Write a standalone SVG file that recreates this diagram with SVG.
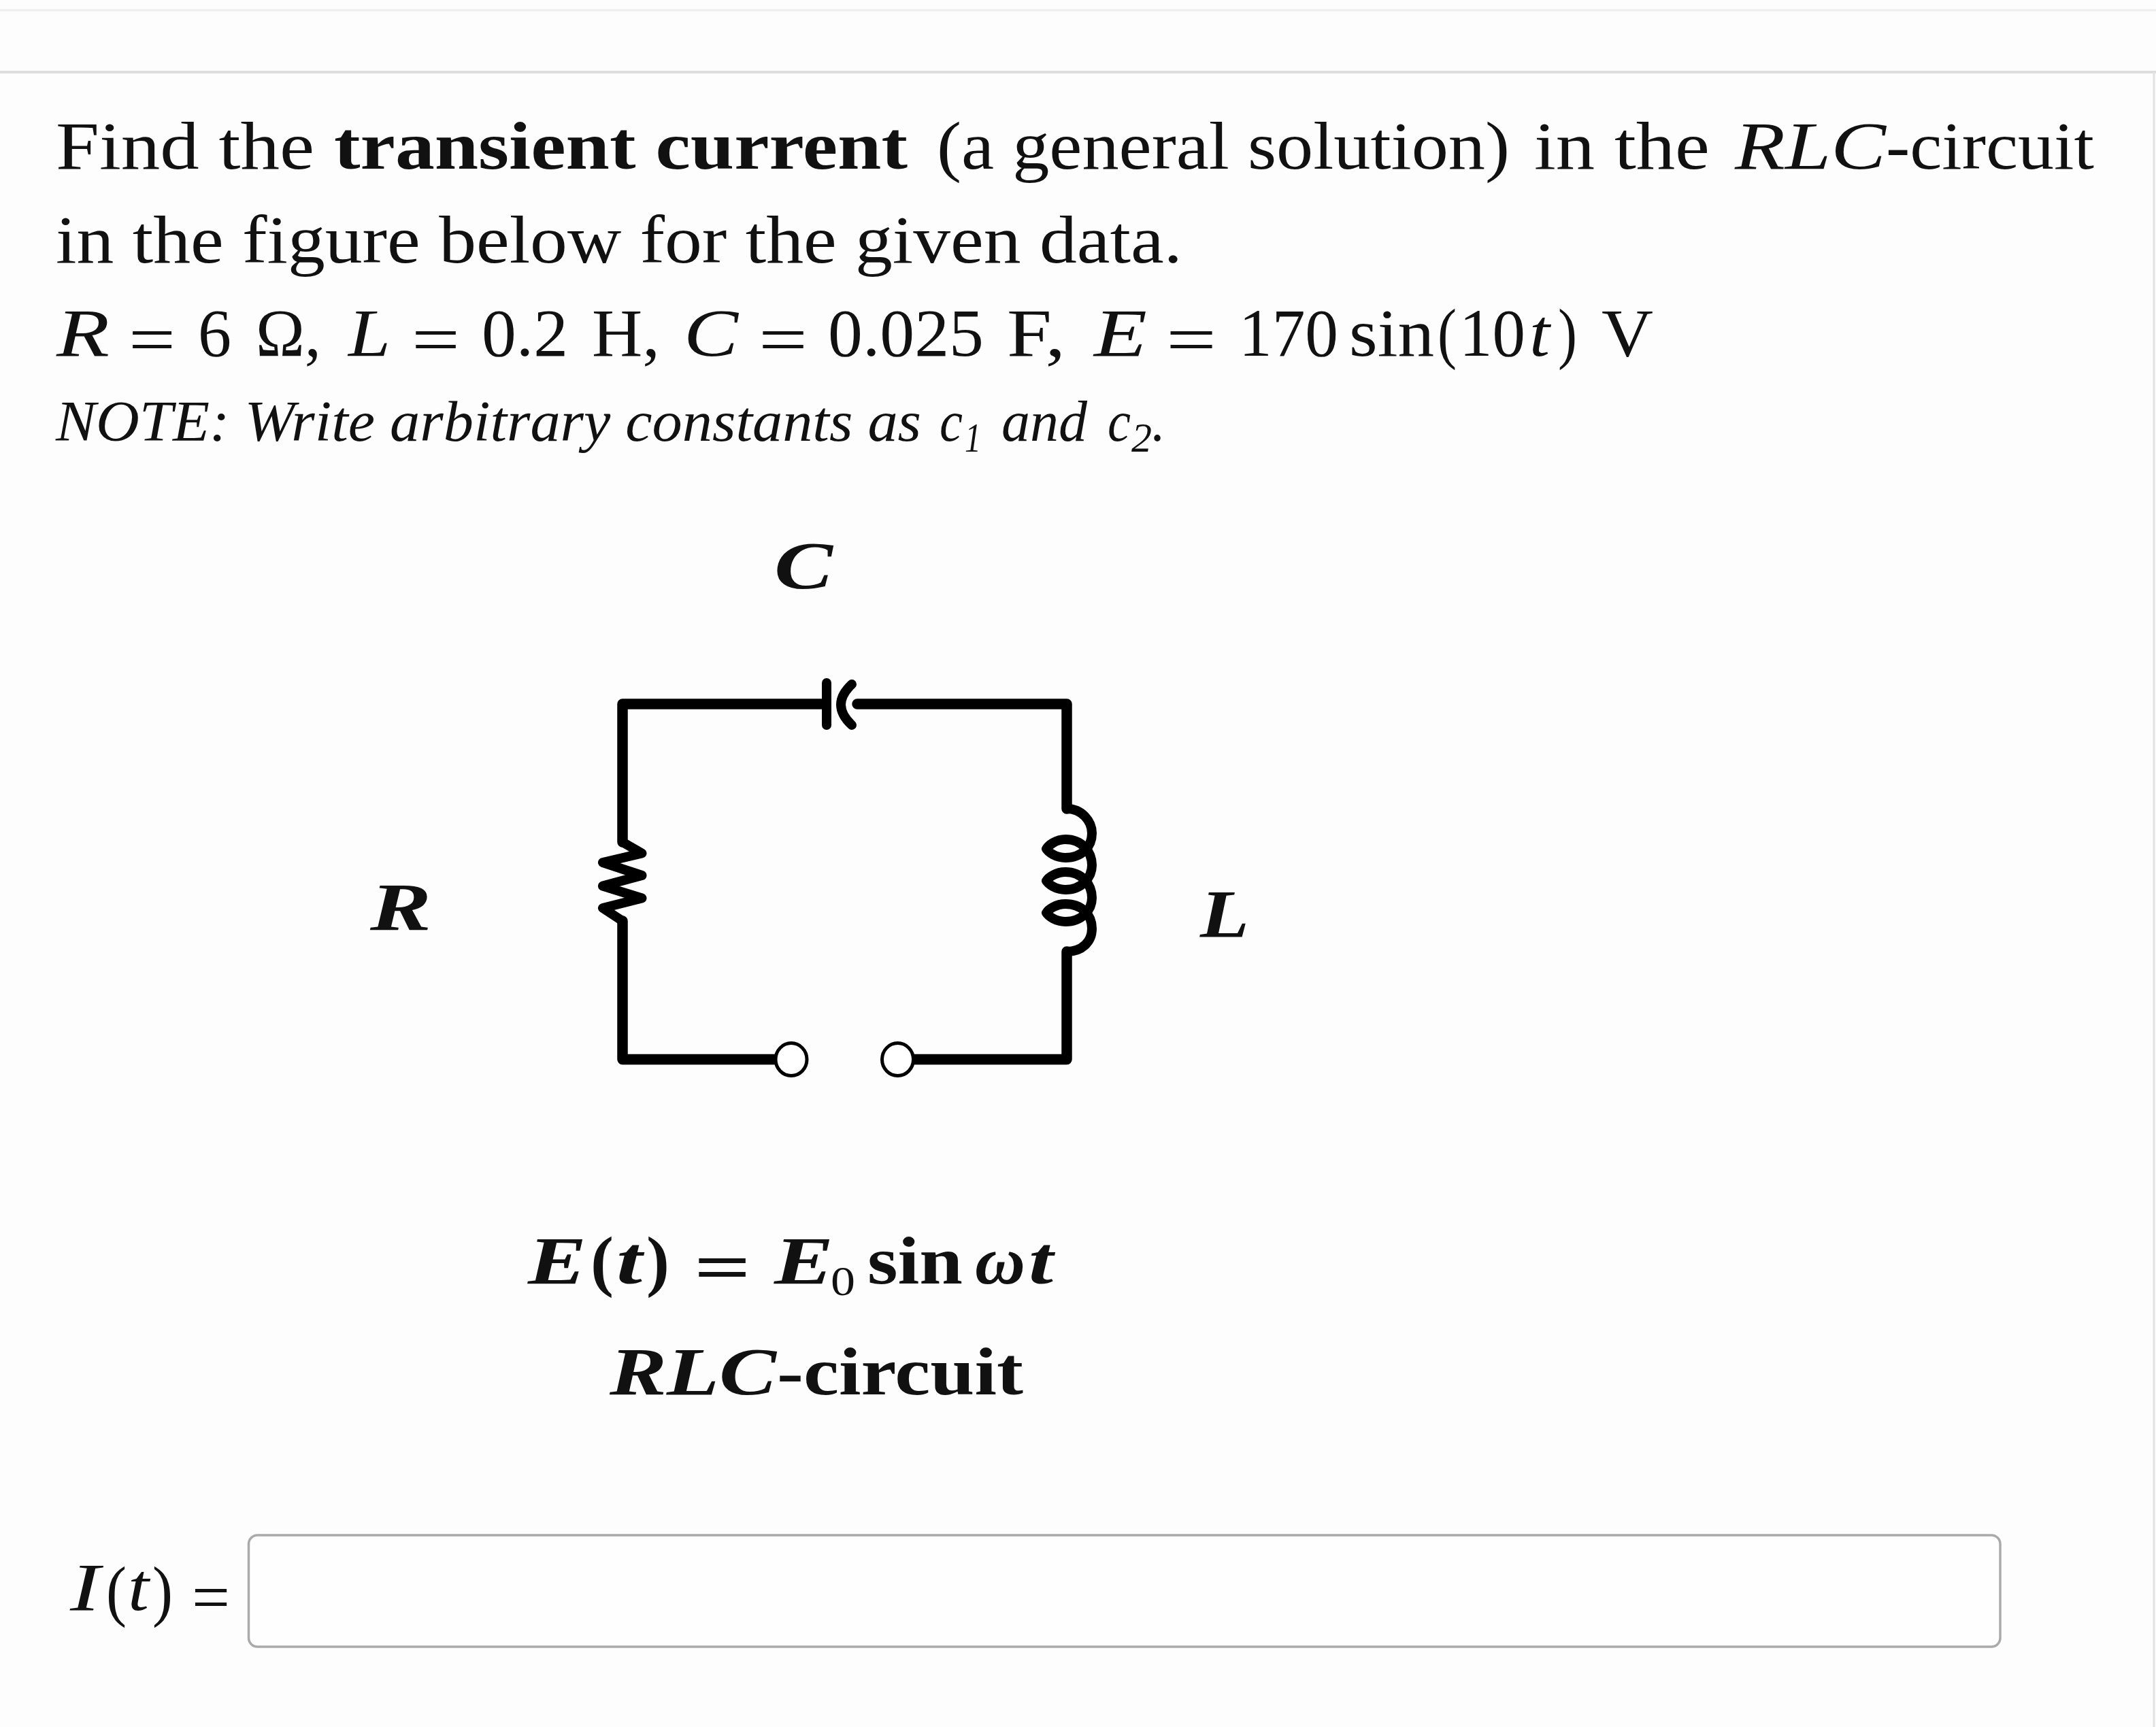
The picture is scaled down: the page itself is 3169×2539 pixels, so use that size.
<svg xmlns="http://www.w3.org/2000/svg" width="3169" height="2539" viewBox="0 0 3169 2539">
<style>
text{font-family:"Liberation Serif","Times New Roman",serif;fill:#111;white-space:pre}
.t{font-size:100px}
.n{font-size:84px;font-style:italic}
.s{font-size:62px}
.i{font-style:italic}
.b{font-weight:700}
.bi{font-weight:700;font-style:italic}
.w{fill:none;stroke:#000;stroke-width:15.5;stroke-linecap:round;stroke-linejoin:round}
.c{fill:none;stroke:#000;stroke-width:14;stroke-linecap:round;stroke-linejoin:round}
.o{fill:#fff;stroke:#000;stroke-width:5}
</style>
<rect width="3169" height="2539" fill="#fdfdfd"/>
<g id="page-frame">
<line x1="0" y1="15" x2="3169" y2="15" stroke="#eeeeee" stroke-width="3"/>
<line x1="0" y1="106" x2="3169" y2="106" stroke="#dddddd" stroke-width="4"/>
<line x1="3166" y1="106" x2="3166" y2="2539" stroke="#e2e2e2" stroke-width="3"/>
</g>
<g id="question">
<text class="t" x="82" y="248" textLength="380" lengthAdjust="spacingAndGlyphs">Find the</text>
<text class="t b" x="491" y="248" textLength="843" lengthAdjust="spacingAndGlyphs">transient current</text>
<text class="t" x="1377" y="248" textLength="842" lengthAdjust="spacingAndGlyphs">(a general solution)</text>
<text class="t" x="2255" y="248" textLength="258" lengthAdjust="spacingAndGlyphs">in the</text>
<text class="t i" x="2550" y="248" textLength="222" lengthAdjust="spacingAndGlyphs">RLC</text>
<text class="t" x="2772" y="248" textLength="306" lengthAdjust="spacingAndGlyphs">-circuit</text>
<text class="t" x="82" y="386" textLength="1656" lengthAdjust="spacingAndGlyphs">in the figure below for the given data.</text>
</g>
<g id="data">
<text class="t i" x="83" y="523" textLength="78" lengthAdjust="spacingAndGlyphs">R</text>
<text class="t" x="189" y="533" textLength="69" lengthAdjust="spacingAndGlyphs">=</text>
<text class="t" x="291" y="523" textLength="49" lengthAdjust="spacingAndGlyphs">6</text>
<text class="t" x="376" y="523" textLength="96" lengthAdjust="spacingAndGlyphs">Ω,</text>
<text class="t i" x="512" y="523" textLength="62" lengthAdjust="spacingAndGlyphs">L</text>
<text class="t" x="605" y="533" textLength="71" lengthAdjust="spacingAndGlyphs">=</text>
<text class="t" x="708" y="523" textLength="127" lengthAdjust="spacingAndGlyphs">0.2</text>
<text class="t" x="870" y="523" textLength="100" lengthAdjust="spacingAndGlyphs">H,</text>
<text class="t i" x="1005" y="523" textLength="80" lengthAdjust="spacingAndGlyphs">C</text>
<text class="t" x="1115" y="533" textLength="72" lengthAdjust="spacingAndGlyphs">=</text>
<text class="t" x="1217" y="523" textLength="229" lengthAdjust="spacingAndGlyphs">0.025</text>
<text class="t" x="1480" y="523" textLength="86" lengthAdjust="spacingAndGlyphs">F,</text>
<text class="t i" x="1608" y="523" textLength="78" lengthAdjust="spacingAndGlyphs">E</text>
<text class="t" x="1714" y="533" textLength="74" lengthAdjust="spacingAndGlyphs">=</text>
<text class="t" x="1821" y="523" textLength="146" lengthAdjust="spacingAndGlyphs">170</text>
<text class="t" x="1983" y="523" textLength="125" lengthAdjust="spacingAndGlyphs">sin</text>
<text class="t" x="2113" y="523" textLength="28" lengthAdjust="spacingAndGlyphs">(</text>
<text class="t" x="2145" y="523" textLength="97" lengthAdjust="spacingAndGlyphs">10</text>
<text class="t i" x="2248" y="523" textLength="30" lengthAdjust="spacingAndGlyphs">t</text>
<text class="t" x="2290" y="523" textLength="28" lengthAdjust="spacingAndGlyphs">)</text>
<text class="t" x="2354" y="523" textLength="76" lengthAdjust="spacingAndGlyphs">V</text>
</g>
<g id="note">
<text class="n" x="82" y="648" textLength="1272" lengthAdjust="spacingAndGlyphs">NOTE: Write arbitrary constants as</text>
<text class="n" x="1381" y="648" textLength="34" lengthAdjust="spacingAndGlyphs">c</text>
<text class="s i" x="1418" y="664" textLength="24" lengthAdjust="spacingAndGlyphs">1</text>
<text class="n" x="1472" y="648" textLength="126" lengthAdjust="spacingAndGlyphs">and</text>
<text class="n" x="1628" y="648" textLength="34" lengthAdjust="spacingAndGlyphs">c</text>
<text class="s i" x="1663" y="664" textLength="30" lengthAdjust="spacingAndGlyphs">2</text>
<text class="n" x="1693" y="648" textLength="20" lengthAdjust="spacingAndGlyphs">.</text>
</g>
<g id="connectors">
<path class="w" d="M1207 1035H915V1238"/>
<path class="w" d="M1260 1035H1568V1189"/>
<path class="w" d="M915 1354V1557.6H1140"/>
<path class="w" d="M1342 1557.6H1568V1399"/>
</g>
<g id="capacitor">
<line class="c" x1="1215" y1="1004" x2="1215" y2="1066"/>
<path class="c" d="M1252 1006Q1220 1036 1252 1066"/>
<text class="t bi" x="1138" y="865" textLength="86" lengthAdjust="spacingAndGlyphs">C</text>
</g>
<g id="resistor">
<polyline class="c" points="915,1238 943.5,1254.5 886,1268 943.5,1287 886,1302.6 943.5,1320.5 886,1335 915,1354"/>
<text class="t bi" x="544" y="1367" textLength="90" lengthAdjust="spacingAndGlyphs">R</text>
</g>
<g id="inductor">
<path class="c" d="M1568 1189C1590 1189 1605 1207 1605 1225C1605 1245 1590 1261 1566 1261C1552 1261 1541 1253 1538 1248C1541 1243 1552 1234 1566 1234C1590 1234 1605 1252 1605 1272C1605 1290 1590 1308 1566 1308C1552 1308 1541 1300 1538 1295C1541 1290 1552 1282 1566 1282C1590 1282 1605 1300 1605 1320C1605 1338 1590 1355 1566 1355C1552 1355 1541 1347 1538 1342C1541 1337 1552 1329 1566 1329C1590 1329 1605 1345 1605 1365C1605 1385 1590 1399 1568 1399"/>
<text class="t bi" x="1764" y="1377" textLength="72" lengthAdjust="spacingAndGlyphs">L</text>
</g>
<g id="terminal-left"><ellipse class="o" cx="1163" cy="1557.6" rx="23" ry="24"/></g>
<g id="terminal-right"><ellipse class="o" cx="1319.5" cy="1557.6" rx="23" ry="24"/></g>
<g id="source-label">
<text class="t bi" x="776" y="1887" textLength="86" lengthAdjust="spacingAndGlyphs">E</text>
<text class="t b" x="868" y="1887" textLength="34" lengthAdjust="spacingAndGlyphs">(</text>
<text class="t bi" x="906" y="1887" textLength="38" lengthAdjust="spacingAndGlyphs">t</text>
<text class="t b" x="950" y="1887" textLength="34" lengthAdjust="spacingAndGlyphs">)</text>
<text class="t b" x="1020" y="1897" textLength="84" lengthAdjust="spacingAndGlyphs">=</text>
<text class="t bi" x="1138" y="1887" textLength="87" lengthAdjust="spacingAndGlyphs">E</text>
<text class="s" x="1221" y="1904" textLength="36" lengthAdjust="spacingAndGlyphs">0</text>
<text class="t b" x="1275" y="1887" textLength="140" lengthAdjust="spacingAndGlyphs">sin</text>
<text class="t bi" x="1433" y="1887" textLength="74" lengthAdjust="spacingAndGlyphs">ω</text>
<text class="t bi" x="1512" y="1887" textLength="36" lengthAdjust="spacingAndGlyphs">t</text>
</g>
<g id="circuit-caption">
<text class="t bi" x="896" y="2050" textLength="245" lengthAdjust="spacingAndGlyphs">RLC</text>
<text class="t b" x="1142" y="2050" textLength="362" lengthAdjust="spacingAndGlyphs">-circuit</text>
</g>
<g id="answer">
<text class="t i" x="103" y="2367" textLength="44" lengthAdjust="spacingAndGlyphs">I</text>
<text class="t" x="156" y="2372" textLength="30" lengthAdjust="spacingAndGlyphs">(</text>
<text class="t i" x="188" y="2367" textLength="31" lengthAdjust="spacingAndGlyphs">t</text>
<text class="t" x="224" y="2372" textLength="30" lengthAdjust="spacingAndGlyphs">)</text>
<text class="t" x="282" y="2382" textLength="56" lengthAdjust="spacingAndGlyphs">=</text>
<rect x="365.5" y="2257" width="2574.5" height="164" rx="13" fill="#fefefe" stroke="#aaaaaa" stroke-width="3.5"/>
</g>
</svg>
